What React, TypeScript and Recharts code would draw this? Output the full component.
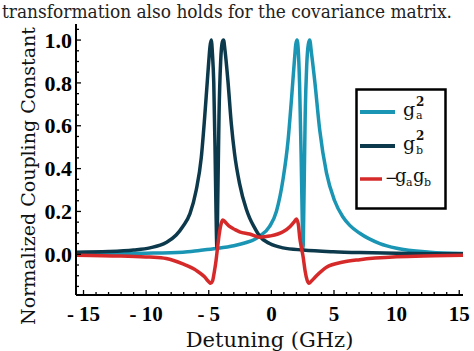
import { LineChart, Line, XAxis, YAxis, Label } from "recharts";

// g_a^2 (light blue)
const gaX = [-15.6, -13, -10, -7.07, -5.74, -4.4, -3.0, -2.0, -1.4, -0.94, -0.14, 0.4, 0.93, 1.33, 1.6, 1.86, 1.95, 2.05, 2.15, 2.25, 2.38, 2.47, 2.53, 2.6, 2.7, 2.82, 2.95, 3.06, 3.2, 3.46, 3.86, 4.4, 5.05, 5.7, 6.26, 7.06, 8.66, 10, 12.66, 15.3];
const gaY = [0.002, 0.003, 0.005, 0.01, 0.018, 0.027, 0.04, 0.055, 0.068, 0.085, 0.13, 0.2, 0.35, 0.53, 0.72, 0.92, 0.98, 1.0, 0.95, 0.8, 0.45, 0.15, 0.03, 0.25, 0.65, 0.88, 0.98, 1.0, 0.94, 0.81, 0.58, 0.38, 0.25, 0.175, 0.135, 0.098, 0.05, 0.028, 0.01, 0.004];

// g_b^2 (dark blue)
const gbX = [-15.6, -13, -11, -9.7, -8.4, -7.6, -7.07, -6.5, -6.0, -5.6, -5.34, -5.15, -5.0, -4.9, -4.8, -4.7, -4.6, -4.5, -4.42, -4.35, -4.27, -4.18, -4.05, -3.92, -3.82, -3.7, -3.47, -3.2, -2.94, -2.54, -2.0, -1.74, -1.4, -0.94, -0.14, 0.93, 2.53, 4.93, 7.06, 10, 13, 15.3];
const gbY = [0.01, 0.013, 0.02, 0.03, 0.055, 0.09, 0.13, 0.19, 0.3, 0.45, 0.63, 0.78, 0.9, 0.97, 1.0, 0.93, 0.8, 0.5, 0.2, 0.03, 0.3, 0.65, 0.9, 0.99, 1.0, 0.95, 0.81, 0.61, 0.47, 0.33, 0.21, 0.17, 0.13, 0.085, 0.05, 0.03, 0.02, 0.012, 0.008, 0.005, 0.003, 0.002];

// -g_a g_b (red)
const gabX = [-15.6, -12, -9.7, -8.4, -7.07, -6.0, -5.34, -5.0, -4.85, -4.7, -4.55, -4.42, -4.3, -4.15, -4.0, -3.87, -3.6, -3.34, -2.9, -2.54, -1.74, -0.94, -0.14, 0.93, 1.5, 1.8, 2.0, 2.15, 2.26, 2.4, 2.53, 2.7, 2.85, 3.0, 3.2, 3.6, 4.4, 5.74, 7.06, 10, 13, 15.3];
const gabY = [-0.004, -0.008, -0.013, -0.02, -0.045, -0.075, -0.105, -0.128, -0.135, -0.125, -0.08, -0.03, 0.03, 0.1, 0.145, 0.16, 0.145, 0.13, 0.115, 0.105, 0.095, 0.08, 0.085, 0.105, 0.13, 0.15, 0.165, 0.14, 0.08, 0.03, -0.01, -0.08, -0.12, -0.135, -0.125, -0.1, -0.06, -0.036, -0.025, -0.012, -0.007, -0.004];

const xMajor = [-15, -10, -5, 0, 5, 10, 15];
const yMajor = [0, 0.2, 0.4, 0.6, 0.8, 1.0];
const xTicks = Array.from({ length: 31 }, (_, i) => i - 15);
const yTicks = Array.from({ length: 25 }, (_, i) => Math.round((-0.15 + i * 0.05) * 100) / 100);

const LIGHT = "#1a95b4";
const DARK = "#0c3a4c";
const RED = "#d62a2a";
const SERIF = "DejaVu Serif";
const TIMES = "Liberation Serif";

const toPts = (xs: number[], ys: number[]) => xs.map((x, i) => ({ x, v: ys[i] }));
const gaData = toPts(gaX, gaY);
const gbData = toPts(gbX, gbY);
const gabData = toPts(gabX, gabY);

const fmtX = (v: number) => (v < 0 ? `- ${-v}` : `${v}`);
const isMajorY = (v: number) => yMajor.some((m) => Math.abs(m - v) < 1e-6);

function BottomTick({ x, y, payload }: any) {
  const major = xMajor.includes(payload.value);
  return (
    <g>
      <line x1={x} x2={x} y1={y} y2={y - (major ? 5 : 3)} stroke="#000" strokeWidth={1.3} />
      {major && (
        <text x={x} y={y + 26} textAnchor="middle" fontFamily={TIMES} fontWeight="bold" fontSize={21} fill="#000">
          {fmtX(payload.value)}
        </text>
      )}
    </g>
  );
}

function TopTick({ x, y, payload }: any) {
  const major = xMajor.includes(payload.value);
  return <line x1={x} x2={x} y1={y} y2={y + (major ? 5 : 3)} stroke="#000" strokeWidth={1.3} />;
}

function LeftTick({ x, y, payload }: any) {
  const major = isMajorY(payload.value);
  return (
    <g>
      <line x1={x} x2={x + (major ? 5 : 3)} y1={y} y2={y} stroke="#000" strokeWidth={1.3} />
      {major && (
        <text x={x - 4} y={y} dy="0.35em" textAnchor="end" fontFamily={TIMES} fontWeight="bold" fontSize={22} fill="#000">
          {payload.value.toFixed(1)}
        </text>
      )}
    </g>
  );
}

function RightTick({ x, y, payload }: any) {
  const major = isMajorY(payload.value);
  return <line x1={x} x2={x - (major ? 5 : 3)} y1={y} y2={y} stroke="#000" strokeWidth={1.3} />;
}

const frame = { stroke: "#000", strokeWidth: 2 };
const xDomain: [number, number] = [-15.6, 15.3];
const yDomain: [number, number] = [-0.19, 1.075];

export default function App() {
  return (
    <div style={{ position: "absolute", left: 0, top: 0, width: 474, height: 351, background: "#fff" }}>
      <LineChart width={474} height={351} margin={{ top: 24, right: 11, bottom: 0, left: 0 }}>
        <XAxis
          type="number"
          dataKey="x"
          domain={xDomain}
          allowDataOverflow
          ticks={xTicks}
          interval={0}
          height={56}
          tickSize={0}
          tickMargin={0}
          tickLine={false}
          axisLine={frame}
          tick={<BottomTick />}
        >
          <Label value="Detuning (GHz)" position="insideBottom" offset={4} fontFamily={SERIF} fontSize={21} fill="#111" />
        </XAxis>
        <XAxis
          xAxisId="top"
          orientation="top"
          type="number"
          dataKey="x"
          domain={xDomain}
          allowDataOverflow
          ticks={xTicks}
          interval={0}
          height={0}
          tickSize={0}
          tickMargin={0}
          tickLine={false}
          axisLine={frame}
          tick={<TopTick />}
        />
        <YAxis
          type="number"
          domain={yDomain}
          allowDataOverflow
          ticks={yTicks}
          interval={0}
          width={76}
          tickSize={0}
          tickMargin={0}
          tickLine={false}
          axisLine={frame}
          tick={<LeftTick />}
        >
          <Label
            content={() => (
              <text
                transform="translate(35,176) rotate(-90)"
                textAnchor="middle"
                fontFamily={SERIF}
                fontSize={19}
                fill="#111"
              >
                Normalized Coupling Constant
              </text>
            )}
          />
        </YAxis>
        <YAxis
          yAxisId="right"
          orientation="right"
          type="number"
          domain={yDomain}
          allowDataOverflow
          ticks={yTicks}
          interval={0}
          width={0}
          tickSize={0}
          tickMargin={0}
          tickLine={false}
          axisLine={frame}
          tick={<RightTick />}
        />
        <Line data={gaData} dataKey="v" type="monotone" stroke={LIGHT} strokeWidth={3.5} dot={false} isAnimationActive={false} />
        <Line data={gbData} dataKey="v" type="monotone" stroke={DARK} strokeWidth={3.5} dot={false} isAnimationActive={false} />
        <Line data={gabData} dataKey="v" type="monotone" stroke={RED} strokeWidth={3.5} dot={false} isAnimationActive={false} />
      </LineChart>

      <svg width={474} height={351} style={{ position: "absolute", left: 0, top: 0, pointerEvents: "none" }}>
        <text x={2} y={18} fontFamily={SERIF} fontSize={18} fill="#222" textLength={450} lengthAdjust="spacingAndGlyphs">
          transformation also holds for the covariance matrix.
        </text>

        <rect x={356.5} y={89.5} width={89} height={119} fill="#fff" stroke="#000" strokeWidth={2.5} />
        <line x1={360} x2={395} y1={112} y2={112} stroke={LIGHT} strokeWidth={4} />
        <line x1={360} x2={395} y1={146} y2={146} stroke={DARK} strokeWidth={4} />
        <line x1={360} x2={382} y1={179} y2={179} stroke={RED} strokeWidth={3.5} />

        <g fontFamily={SERIF} fill="#111">
          <text x={403} y={116} fontSize={19}>g</text>
          <text x={416} y={106} fontSize={12} fontWeight="bold">2</text>
          <text x={416} y={119} fontSize={11}>a</text>

          <text x={403} y={150} fontSize={19}>g</text>
          <text x={416} y={140} fontSize={12} fontWeight="bold">2</text>
          <text x={416} y={154} fontSize={11}>b</text>

          <text x={385} y={183} fontSize={15}>−</text>
          <text x={395} y={182} fontSize={18}>g</text>
          <text x={406} y={186} fontSize={11}>a</text>
          <text x={413} y={182} fontSize={18}>g</text>
          <text x={424} y={186} fontSize={11}>b</text>
        </g>
      </svg>
    </div>
  );
}
